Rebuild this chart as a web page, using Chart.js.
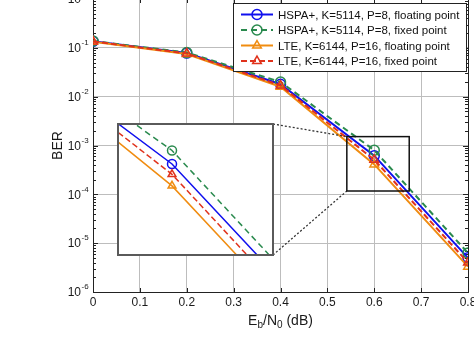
<!DOCTYPE html>
<html>
<head>
<meta charset="utf-8">
<script src="https://cdn.jsdelivr.net/npm/chart.js@4.4.1/dist/chart.umd.min.js"></script>
<style>
  html, body { margin: 0; padding: 0; background: #fff; }
  body { position: relative; width: 474px; height: 339px; overflow: hidden; }
  #main { position: absolute; left: 0; top: -10px; }
  #inset { position: absolute; left: 116px; top: 122px; }
</style>
</head>
<body>
<canvas id="main" width="484" height="349"></canvas>
<canvas id="inset" width="159" height="135"></canvas>
<script>
const xValues = [0, 0.2, 0.4, 0.6, 0.8];
const hspaFloat = [0.136, 0.078, 0.0180, 6.2e-4, 5.0e-6];
const hspaFixed = [0.138, 0.080, 0.0200, 8.0e-4, 6.3e-6];
const lteFloat  = [0.133, 0.075, 0.0160, 4.1e-4, 3.3e-6];
const lteFixed  = [0.135, 0.077, 0.0170, 5.1e-4, 4.0e-6];
const seriesLabels = [
  'HSPA+, K=5114, P=8, floating point',
  'HSPA+, K=5114, P=8, fixed point',
  'LTE, K=6144, P=16, floating point',
  'LTE, K=6144, P=16, fixed point'
];
const xTicks = [0, 0.1, 0.2, 0.3, 0.4, 0.5, 0.6, 0.7, 0.8];
const xTickLabels = ['0', '0.1', '0.2', '0.3', '0.4', '0.5', '0.6', '0.7', '0.8'];
const yTicks = [1e-6, 1e-5, 1e-4, 1e-3, 1e-2, 1e-1, 1];
const yExponents = ['-6', '-5', '-4', '-3', '-2', '-1', '0'];
// zoom box on the main axes, and limits of the inset axes
const zoomX = [0.5415, 0.6746];
const zoomY = [1.17e-4, 1.52e-3];
const insetX = [0.5547, 0.6847];
const insetY = [1.11e-4, 1.32e-3];

const seriesValues = [hspaFloat, hspaFixed, lteFloat, lteFixed];
const styles = [
  { color: '#1010ee', dash: [], marker: 'circle' },
  { color: '#2a8a4e', dash: [6, 4], marker: 'circle' },
  { color: '#f08c10', dash: [], marker: 'triangle' },
  { color: '#e0321c', dash: [6, 3], marker: 'triangle' }
];
const FONT = '"Liberation Sans", Arial, sans-serif';
const INSET_PAD = 2;

function makeDatasets(radius, width) {
  return seriesValues.map((vals, i) => ({
    label: seriesLabels[i],
    data: vals.map((v, j) => ({ x: xValues[j], y: v })),
    borderColor: styles[i].color,
    borderDash: styles[i].dash,
    borderWidth: width,
    pointStyle: styles[i].marker,
    pointRadius: radius,
    pointBorderWidth: 1.5,
    pointBorderColor: styles[i].color,
    pointBackgroundColor: 'rgba(0,0,0,0)',
    tension: 0,
    order: 4 - i
  }));
}

function drawMarker(ctx, style, x, y, r) {
  ctx.beginPath();
  if (style === 'circle') {
    ctx.arc(x, y, r, 0, Math.PI * 2);
  } else {
    let rad = 0;
    for (let k = 0; k < 3; k++) {
      const px = x + Math.sin(rad) * r, py = y - Math.cos(rad) * r;
      k === 0 ? ctx.moveTo(px, py) : ctx.lineTo(px, py);
      rad += Math.PI * 2 / 3;
    }
    ctx.closePath();
  }
  ctx.stroke();
}

const matlabAxes = {
  id: 'matlabAxes',
  beforeDraw(chart) {
    const ctx = chart.ctx;
    ctx.save();
    ctx.fillStyle = '#fff';
    ctx.fillRect(0, 0, chart.width, chart.height);
    ctx.restore();
  },
  beforeDatasetsDraw(chart) {
    const { ctx, chartArea: a, scales: { x, y } } = chart;
    ctx.save();
    ctx.strokeStyle = '#222';
    ctx.lineWidth = 1;
    ctx.beginPath();
    xTicks.forEach(v => {
      const px = Math.round(x.getPixelForValue(v)) + 0.5;
      ctx.moveTo(px, a.bottom); ctx.lineTo(px, a.bottom - 4);
      ctx.moveTo(px, a.top); ctx.lineTo(px, a.top + 4);
    });
    for (let k = -6; k <= 0; k++) {
      for (let m = 1; m <= 9; m++) {
        if (k === 0 && m > 1) break;
        const py = Math.round(y.getPixelForValue(m * Math.pow(10, k))) + 0.5;
        const len = m === 1 ? 5 : 3;
        ctx.moveTo(a.left, py); ctx.lineTo(a.left + len, py);
        ctx.moveTo(a.right, py); ctx.lineTo(a.right - len, py);
      }
    }
    ctx.stroke();
    ctx.strokeRect(Math.round(a.left) + 0.5, Math.round(a.top) + 0.5,
      Math.round(a.right - a.left), Math.round(a.bottom - a.top));
    ctx.restore();
  },
  afterDatasetsDraw(chart) {
    const { ctx, scales: { x, y } } = chart;
    const l = x.getPixelForValue(zoomX[0]), r = x.getPixelForValue(zoomX[1]);
    const t = y.getPixelForValue(zoomY[1]), b = y.getPixelForValue(zoomY[0]);
    const insetEl = document.getElementById('inset');
    const mainEl = chart.canvas;
    const ir = insetEl.offsetLeft + insetEl.width - INSET_PAD;
    const it = insetEl.offsetTop - mainEl.offsetTop + INSET_PAD;
    const ib = insetEl.offsetTop - mainEl.offsetTop + insetEl.height - INSET_PAD;
    ctx.save();
    ctx.strokeStyle = '#333';
    ctx.lineWidth = 1.3;
    ctx.setLineDash([2, 2]);
    ctx.beginPath();
    ctx.moveTo(ir, it); ctx.lineTo(l, t);
    ctx.moveTo(ir, ib); ctx.lineTo(l, b);
    ctx.stroke();
    ctx.setLineDash([]);
    ctx.strokeStyle = '#111';
    ctx.lineWidth = 1.5;
    ctx.strokeRect(l, t, r - l, b - t);
    ctx.restore();
  },
  afterDraw(chart) {
    const { ctx, chartArea: a, scales: { x, y } } = chart;
    ctx.save();
    ctx.fillStyle = '#1a1a1a';
    // y tick labels 10^k
    yTicks.forEach((v, i) => {
      const py = y.getPixelForValue(v);
      ctx.font = '12px ' + FONT;
      ctx.textAlign = 'right';
      ctx.textBaseline = 'middle';
      ctx.fillText('10', a.left - 12, py + 1);
      ctx.font = '8px ' + FONT;
      ctx.textAlign = 'left';
      ctx.fillText(yExponents[i], a.left - 11.5, py - 5);
    });
    // x tick labels
    ctx.font = '12px ' + FONT;
    ctx.textAlign = 'center';
    ctx.textBaseline = 'middle';
    xTicks.forEach((v, i) => ctx.fillText(xTickLabels[i], x.getPixelForValue(v), a.bottom + 11));
    // x title E_b/N_0 (dB)
    const parts = [['E', 14, 0], ['b', 10, 3], ['/N', 14, 0], ['0', 10, 3], [' (dB)', 14, 0]];
    let w = 0;
    parts.forEach(p => { ctx.font = p[1] + 'px ' + FONT; w += ctx.measureText(p[0]).width; });
    let cx = (a.left + a.right) / 2 - w / 2;
    const base = a.bottom + 33;
    ctx.textAlign = 'left';
    ctx.textBaseline = 'alphabetic';
    parts.forEach(p => {
      ctx.font = p[1] + 'px ' + FONT;
      ctx.fillText(p[0], cx, base + p[2]);
      cx += ctx.measureText(p[0]).width;
    });
    // y title
    ctx.save();
    ctx.translate(58, (a.top + a.bottom) / 2);
    ctx.rotate(-Math.PI / 2);
    ctx.font = '14px ' + FONT;
    ctx.textAlign = 'center';
    ctx.textBaseline = 'middle';
    ctx.fillText('BER', 0, 0);
    ctx.restore();
    // legend box
    const bl = a.right - 235, br = a.right - 2, bt = a.top + 4, bb = a.top + 72;
    ctx.fillStyle = '#fff';
    ctx.fillRect(bl, bt, br - bl, bb - bt);
    ctx.strokeStyle = '#222';
    ctx.lineWidth = 1;
    ctx.strokeRect(Math.round(bl) + 0.5, Math.round(bt) + 0.5, Math.round(br - bl), Math.round(bb - bt));
    chart.data.datasets.forEach((ds, i) => {
      const ry = a.top + 15.5 + i * 15.5;
      ctx.strokeStyle = ds.borderColor;
      ctx.lineWidth = 2;
      ctx.setLineDash(ds.borderDash);
      ctx.beginPath();
      ctx.moveTo(bl + 8, ry); ctx.lineTo(bl + 40, ry);
      ctx.stroke();
      ctx.setLineDash([]);
      ctx.lineWidth = 1.5;
      drawMarker(ctx, ds.pointStyle, bl + 24, ry, 5);
      ctx.fillStyle = '#111';
      ctx.font = '11.5px ' + FONT;
      ctx.textAlign = 'left';
      ctx.textBaseline = 'middle';
      ctx.fillText(ds.label, bl + 45, ry + 1);
    });
    ctx.restore();
  }
};

new Chart(document.getElementById('main'), {
  type: 'line',
  data: { datasets: makeDatasets(5, 2) },
  options: {
    responsive: false,
    animation: false,
    devicePixelRatio: 1,
    layout: { autoPadding: false, padding: { left: 93, right: 16, top: 9, bottom: 47 } },
    plugins: { legend: { display: false }, tooltip: { enabled: false } },
    scales: {
      x: {
        type: 'linear', min: 0, max: 0.8,
        afterBuildTicks: s => { s.ticks = xTicks.map(v => ({ value: v })); },
        ticks: { display: false },
        grid: { color: '#bdbdbd', drawTicks: false },
        border: { display: false }
      },
      y: {
        type: 'logarithmic', min: 1e-6, max: 1,
        afterBuildTicks: s => { s.ticks = yTicks.map(v => ({ value: v })); },
        ticks: { display: false },
        grid: { color: '#bdbdbd', drawTicks: false },
        border: { display: false }
      }
    }
  },
  plugins: [matlabAxes]
});

const insetFrame = {
  id: 'insetFrame',
  beforeDraw(chart) {
    const { ctx, chartArea: a } = chart;
    ctx.save();
    ctx.fillStyle = '#fff';
    ctx.fillRect(a.left, a.top, a.right - a.left, a.bottom - a.top);
    ctx.restore();
  },
  afterDraw(chart) {
    const { ctx, chartArea: a } = chart;
    ctx.save();
    ctx.strokeStyle = '#5a5a5a';
    ctx.lineWidth = 2;
    ctx.strokeRect(a.left, a.top, a.right - a.left, a.bottom - a.top);
    ctx.restore();
  }
};

new Chart(document.getElementById('inset'), {
  type: 'line',
  data: { datasets: makeDatasets(4.5, 1.5) },
  options: {
    responsive: false,
    animation: false,
    devicePixelRatio: 1,
    layout: { autoPadding: false, padding: INSET_PAD },
    plugins: { legend: { display: false }, tooltip: { enabled: false } },
    scales: {
      x: { type: 'linear', min: insetX[0], max: insetX[1], display: false },
      y: { type: 'logarithmic', min: insetY[0], max: insetY[1], display: false }
    }
  },
  plugins: [insetFrame]
});
</script>
</body>
</html>
